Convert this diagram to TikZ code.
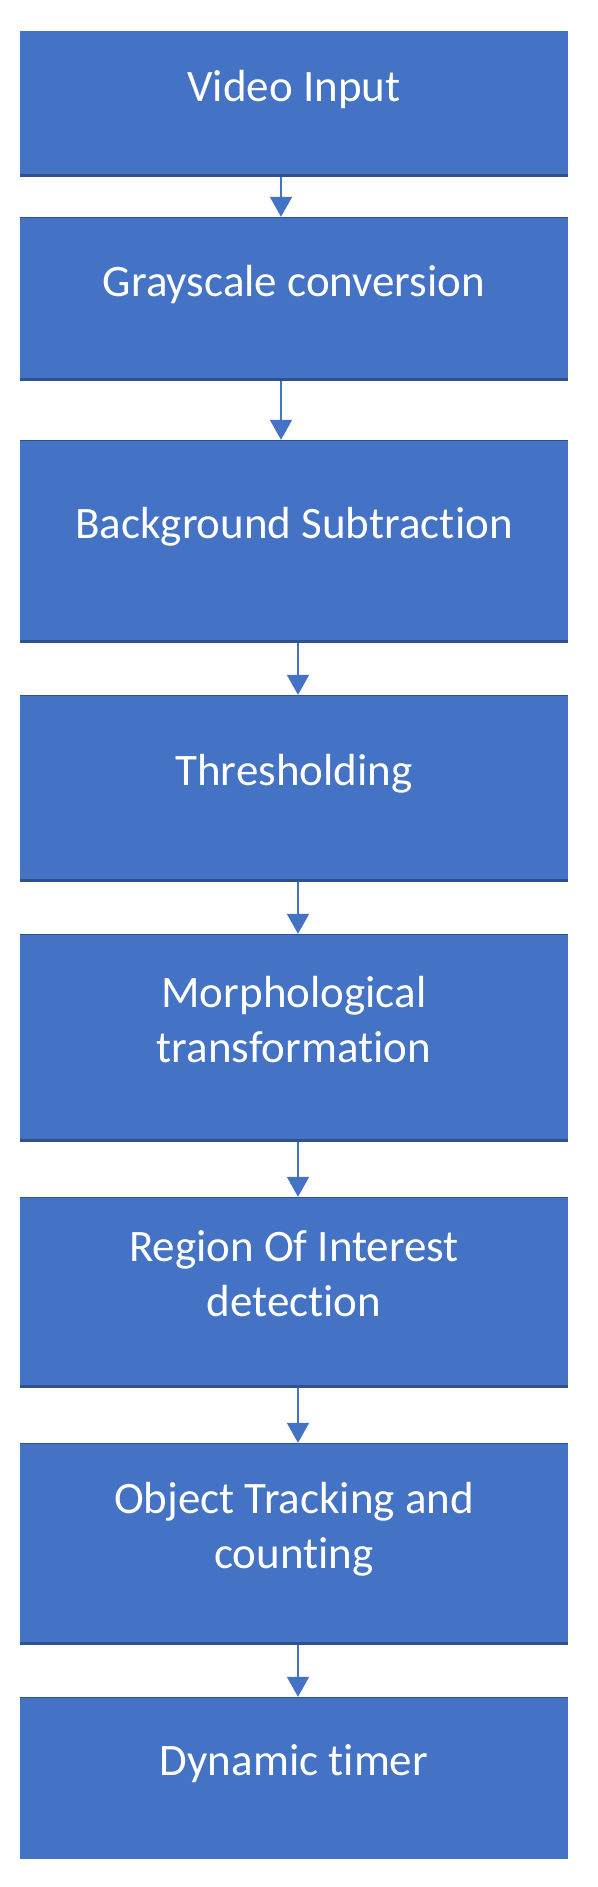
\documentclass[tikz,border=0pt]{standalone}
\usepackage{fontspec}
\setmainfont[Ligatures=NoCommon]{Carlito}
\usetikzlibrary{arrows.meta}
\definecolor{boxblue}{HTML}{4472C4}
\definecolor{rimblue}{HTML}{2F528F}
\tikzset{stage/.style={fill=boxblue,text=white,minimum width=548pt,inner sep=0pt,align=center,text depth=37pt,font=\fontsize{45}{55}\selectfont},
  flow/.style={boxblue,line width=2pt}}

\begin{document}
\begin{tikzpicture}[x=1pt,y=-1pt,>={Triangle[length=20pt,width=22pt]},line join=round]
\useasboundingbox (0,0) rectangle (597,1887);
% --- the eight stages, top to bottom
\node[stage,minimum height=146pt] (s1) at (294,104) {Video Input};
\node[stage,minimum height=164pt] (s2) at (294,299) {Grayscale conversion};
\node[stage,minimum height=203pt] (s3) at (294,541.5) {Background Subtraction};
\node[stage,minimum height=187pt] (s4) at (294,788.5) {Thresholding};
\node[stage,minimum height=208pt] (s5) at (294,1038) {Morphological\\transformation};
\node[stage,minimum height=191pt] (s6) at (294,1292.5) {Region Of Interest\\detection};
\node[stage,minimum height=202pt] (s7) at (294,1544) {Object Tracking and\\counting};
\node[stage,minimum height=162pt] (s8) at (294,1778) {Dynamic timer};
% --- darker rims
\foreach \i in {1,...,7} \draw[rimblue,line width=3pt] ([yshift=1.5pt]s\i.south west) -- ([yshift=1.5pt]s\i.south east);
\foreach \i in {2,...,8} \draw[rimblue,line width=1.5pt] ([yshift=-0.75pt]s\i.north west) -- ([yshift=-0.75pt]s\i.north east);
% --- arrows
\draw[flow,->] ([xshift=-13pt]s1.south) -- ([xshift=-13pt]s2.north);
\draw[flow,->] ([xshift=-13pt]s2.south) -- ([xshift=-13pt]s3.north);
\foreach \a/\b in {s3/s4,s4/s5,s5/s6,s6/s7,s7/s8}
  \draw[flow,->] ([xshift=4pt]\a.south) -- ([xshift=4pt]\b.north);
\end{tikzpicture}
\end{document}
